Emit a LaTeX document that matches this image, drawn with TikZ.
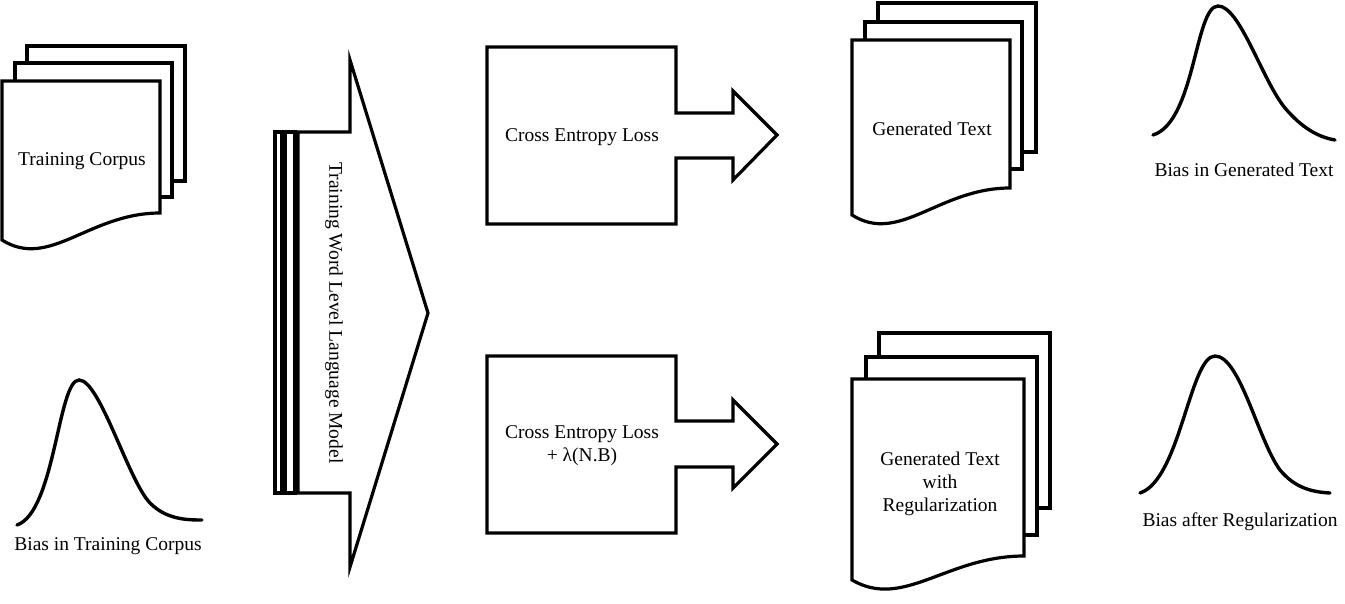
\documentclass[tikz,border=0pt]{standalone}
\usepackage{fontspec}
\setmainfont{Liberation Serif}
\begin{document}
\begin{tikzpicture}[x=1pt,y=-1pt,
  ln/.style={line width=3.2pt,line join=miter,fill=white},
  lbl/.style={font=\fontsize{19.5}{23}\selectfont,align=center,inner sep=0pt},
  crv/.style={line width=3.4pt,line cap=round}]
\useasboundingbox (0,0) rectangle (1345,603);
\newcommand\docpg[6]{% name, x1, yt, x2, yrb, ylb
  \draw[ln] (#2,#3) -- (#4,#3) -- (#4,#5) .. controls ({#2+0.55*(#4-#2)},#5) and ({#2+0.3*(#4-#2)},{#6+30}) .. (#2,#6) -- cycle;
  \coordinate (#1) at ({(#2+#4)/2},{(#3+#5)/2});}
% left stack
\draw[ln] (27,46) rectangle (185,181);
\draw[ln] (15,63) rectangle (172,197);
\docpg{tc}{2}{81}{160}{213}{240}
\node[lbl] (tctext) at (82,161) {Training Corpus};
% left bias curve
\draw[crv] (17,525) .. controls (55,512) and (58,380) .. (79,380) .. controls (100,380) and (128,480) .. (150,503) .. controls (166,519) and (185,520) .. (202,520);
\node[lbl] (b1) at (108,546) {Bias in Training Corpus};
% big arrow
\draw[ln] (275,132) rectangle (282,493);
\draw[ln] (285,132) rectangle (295,493);
\draw[ln] (298,132) -- (350,132) -- (350,60) -- (428,313) -- (350,567) -- (350,493) -- (298,493) -- cycle;
\node[lbl,rotate=-90] (lm) at (334,313) {Training Word Level Language Model};
% block arrows
\draw[ln] (487,47) -- (676,47) -- (676,113) -- (733,113) -- (733,91) -- (777,135) -- (733,180) -- (733,158) -- (676,158) -- (676,224) -- (487,224) -- cycle;
\node[lbl] (ce1) at (582,137) {Cross Entropy Loss};
\draw[ln] (487,356) -- (676,356) -- (676,421) -- (733,421) -- (733,400) -- (777,444) -- (733,488) -- (733,467) -- (676,467) -- (676,533) -- (487,533) -- cycle;
\node[lbl] (ce2) at (582,446) {Cross Entropy Loss\\+ λ(N.B)};
% generated text top
\draw[ln] (878,3) rectangle (1036,152);
\draw[ln] (865,22) rectangle (1022,169);
\docpg{gt}{852}{40}{1010}{188}{215}
\node[lbl] (gttext) at (932,129) {Generated Text};
% generated text bottom
\draw[ln] (879,333) rectangle (1050,508);
\draw[ln] (866,357) rectangle (1037,535);
\docpg{gr}{852}{379}{1024}{556}{580}
\node[lbl] (grtext) at (940,484) {Generated Text\\with\\Regularization};
% right curves
\draw[crv] (1153,135) .. controls (1195,122) and (1195,6) .. (1218,6) .. controls (1240,6) and (1262,80) .. (1285,108) .. controls (1302,128) and (1318,137) .. (1335,140);
\node[lbl] (b2) at (1244,170) {Bias in Generated Text};
\draw[crv] (1140,493) .. controls (1180,480) and (1190,356) .. (1215,356) .. controls (1240,356) and (1258,440) .. (1280,470) .. controls (1295,488) and (1312,492) .. (1330,493);
\node[lbl] (b3) at (1240,522) {Bias after Regularization};
\end{tikzpicture}
\end{document}
